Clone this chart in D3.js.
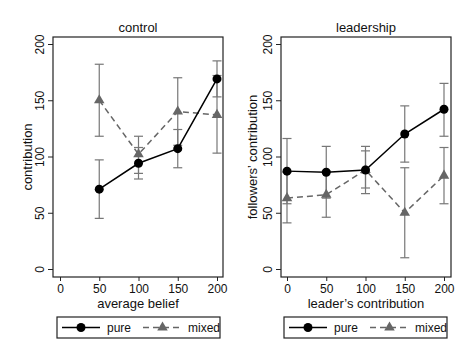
<!DOCTYPE html>
<html>
<head>
<meta charset="utf-8">
<script src="https://cdn.jsdelivr.net/npm/d3@7"></script>
<style>
body { margin: 0; background: #fff; }
text { font-family: "Liberation Sans", Arial, sans-serif; fill: #111; }
</style>
</head>
<body>
<svg id="chart" width="474" height="362"></svg>
<script>
// values
var controlX = [50, 100, 150, 200];
var controlPure = [71, 94, 107, 169];
var controlPureLo = [45, 80, 90, 153];
var controlPureHi = [97, 108, 124, 185];
var controlMixed = [150, 102, 140, 137];
var controlMixedLo = [118, 85, 110, 103];
var controlMixedHi = [182, 118, 170, 172];

var leaderX = [0, 50, 100, 150, 200];
var leaderPure = [87, 86, 88, 120, 142];
var leaderPureLo = [58, 63, 67, 95, 118];
var leaderPureHi = [116, 109, 109, 145, 165];
var leaderMixed = [63, 66, 88, 50, 83];
var leaderMixedLo = [41, 46, 72, 10, 58];
var leaderMixedHi = [86, 87, 105, 90, 108];

var xTicks = [0, 50, 100, 150, 200];
var yTicks = [0, 50, 100, 150, 200];
var seriesNames = ["pure", "mixed"];

var svg = d3.select("#chart");
var gray = "#666";

function panel(opt) {
    var x = d3.scaleLinear().domain([0, 200]).range([opt.x0, opt.x1]);
    var y = d3.scaleLinear().domain([0, 200]).range([269, 44]);
    var g = svg.append("g");

    // frame
    g.append("rect")
        .attr("x", opt.left).attr("y", 37)
        .attr("width", opt.right - opt.left).attr("height", 240)
        .attr("fill", "none").attr("stroke", "#222").attr("stroke-width", 1.2);

    // y axis, labels turned like the original
    var ya = g.append("g")
        .attr("transform", "translate(" + opt.left + ",0)")
        .call(d3.axisLeft(y).tickValues(yTicks).tickSize(5).tickFormat(d3.format("d")));
    ya.select(".domain").remove();
    ya.selectAll("line").attr("stroke", "#222");
    ya.selectAll("text")
        .attr("font-size", 12).attr("font-family", "Liberation Sans, Arial, sans-serif")
        .attr("text-anchor", "middle").attr("x", null).attr("dy", "0.35em")
        .attr("transform", "translate(-13,0) rotate(-90)");

    // x axis
    var xa = g.append("g")
        .attr("transform", "translate(0,277)")
        .call(d3.axisBottom(x).tickValues(xTicks).tickSize(4).tickFormat(d3.format("d")));
    xa.select(".domain").remove();
    xa.selectAll("line").attr("stroke", "#222");
    xa.selectAll("text")
        .attr("font-size", 12).attr("font-family", "Liberation Sans, Arial, sans-serif")
        .attr("y", 7);

    g.append("text").attr("x", (opt.left + opt.right) / 2).attr("y", 32)
        .attr("text-anchor", "middle").attr("font-size", 13).text(opt.title);
    g.append("text").attr("x", (opt.left + opt.right) / 2).attr("y", 308)
        .attr("text-anchor", "middle").attr("font-size", 13).text(opt.xlabel);
    g.append("text")
        .attr("transform", "translate(" + opt.ylabelX + ",157) rotate(-90)")
        .attr("text-anchor", "middle").attr("font-size", 13).text(opt.ylabel);

    var series = [
        { xs: opt.xs, v: opt.mixed, lo: opt.mixedLo, hi: opt.mixedHi, mixed: true },
        { xs: opt.xs, v: opt.pure, lo: opt.pureLo, hi: opt.pureHi, mixed: false }
    ];

    // error bars
    series.forEach(function (s) {
        var eb = g.append("g").attr("stroke", "#777").attr("stroke-width", 1.2);
        s.xs.forEach(function (xv, i) {
            eb.append("line").attr("x1", x(xv)).attr("x2", x(xv)).attr("y1", y(s.lo[i])).attr("y2", y(s.hi[i]));
            eb.append("line").attr("x1", x(xv) - 4.5).attr("x2", x(xv) + 4.5).attr("y1", y(s.lo[i])).attr("y2", y(s.lo[i]));
            eb.append("line").attr("x1", x(xv) - 4.5).attr("x2", x(xv) + 4.5).attr("y1", y(s.hi[i])).attr("y2", y(s.hi[i]));
        });
    });

    var line = d3.line().x(function (d) { return x(d[0]); }).y(function (d) { return y(d[1]); });
    series.forEach(function (s) {
        var pts = s.xs.map(function (xv, i) { return [xv, s.v[i]]; });
        g.append("path").datum(pts).attr("d", line)
            .attr("fill", "none")
            .attr("stroke", s.mixed ? gray : "#000")
            .attr("stroke-width", 1.5)
            .attr("stroke-dasharray", s.mixed ? "6,4" : null);
        if (s.mixed) {
            g.selectAll(null).data(pts).enter().append("path")
                .attr("d", d3.symbol().type(d3.symbolTriangle).size(48))
                .attr("transform", function (d) { return "translate(" + x(d[0]) + "," + y(d[1]) + ")"; })
                .attr("fill", gray);
        } else {
            g.selectAll(null).data(pts).enter().append("circle")
                .attr("cx", function (d) { return x(d[0]); })
                .attr("cy", function (d) { return y(d[1]); })
                .attr("r", 4.5).attr("fill", "#000");
        }
    });

    // legend
    var lg = g.append("g").attr("transform", "translate(" + opt.legX + ",317)");
    lg.append("rect").attr("width", 163).attr("height", 21)
        .attr("fill", "#fff").attr("stroke", "#222").attr("stroke-width", 1.2);
    lg.append("line").attr("x1", 5).attr("x2", 43).attr("y1", 10.5).attr("y2", 10.5)
        .attr("stroke", "#000").attr("stroke-width", 1.5);
    lg.append("circle").attr("cx", 24).attr("cy", 10.5).attr("r", 4.5).attr("fill", "#000");
    lg.append("text").attr("x", 50).attr("y", 15).attr("font-size", 12).text(seriesNames[0]);
    lg.append("line").attr("x1", 86).attr("x2", 125).attr("y1", 10.5).attr("y2", 10.5)
        .attr("stroke", gray).attr("stroke-width", 1.5).attr("stroke-dasharray", "6,4");
    lg.append("path").attr("d", d3.symbol().type(d3.symbolTriangle).size(48))
        .attr("transform", "translate(105.5,10.5)").attr("fill", gray);
    lg.append("text").attr("x", 131).attr("y", 15).attr("font-size", 12).text(seriesNames[1]);
}

panel({
    left: 53, right: 223, x0: 60, x1: 217, title: "control", xlabel: "average belief",
    ylabel: "contribution", ylabelX: 32, legX: 57,
    xs: controlX, pure: controlPure, pureLo: controlPureLo, pureHi: controlPureHi,
    mixed: controlMixed, mixedLo: controlMixedLo, mixedHi: controlMixedHi
});
panel({
    left: 281, right: 451, x0: 287, x1: 444, title: "leadership", xlabel: "leader\u2019s contribution",
    ylabel: "followers\u2019 contribution", ylabelX: 257, legX: 284,
    xs: leaderX, pure: leaderPure, pureLo: leaderPureLo, pureHi: leaderPureHi,
    mixed: leaderMixed, mixedLo: leaderMixedLo, mixedHi: leaderMixedHi
});
</script>
</body>
</html>
